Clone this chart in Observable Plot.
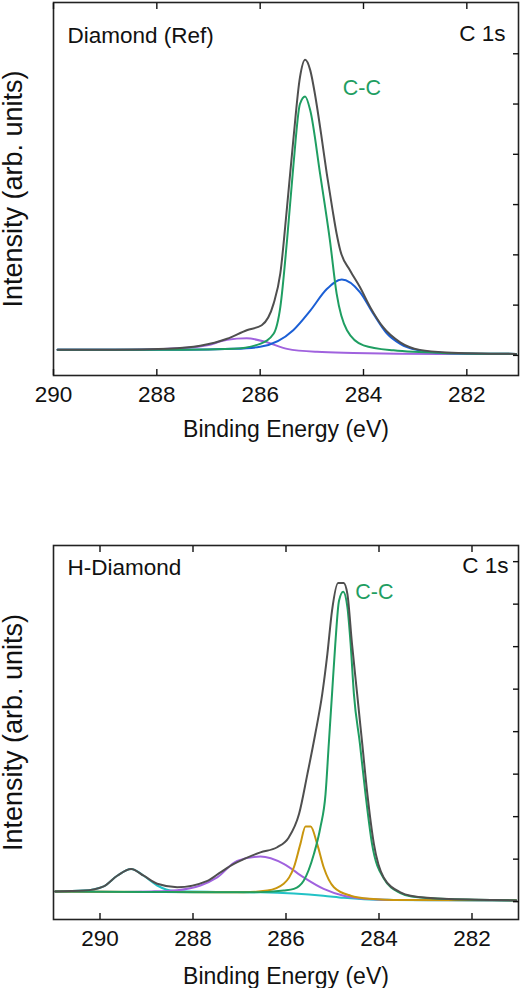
<!DOCTYPE html>
<html>
<head>
<meta charset="utf-8">
<script src="https://cdn.jsdelivr.net/npm/d3@7"></script>
<script src="https://cdn.jsdelivr.net/npm/@observablehq/plot@0.6"></script>
<style>
  body { margin: 0; background: #fff; }
  #chart { width: 520px; }
  #chart svg { display: block; }
</style>
</head>
<body>
<div id="chart"></div>
<script>
// ---------- data (binding energy eV, intensity arb. units) ----------
// Top panel: Diamond (Ref)
const refEnvelope = [[289.92,0.11],[288.8,0.11],[287.8,0.13],[287.16,0.19],[286.64,0.33],[286.26,0.5],[285.97,0.6],[285.74,1.03],[285.61,1.63],[285.48,2.95],[285.36,4.27],[285.23,5.53],[285.13,5.88],[285.03,5.67],[284.94,5.2],[284.82,4.4],[284.71,3.61],[284.6,2.9],[284.52,2.42],[284.45,2.09],[284.26,1.69],[284.07,1.36],[283.87,0.96],[283.62,0.56],[283.29,0.26],[282.91,0.11],[282.4,0.06],[281.05,0.03]];
const refCC = [[289.92,0.11],[287.5,0.11],[286.52,0.13],[286.0,0.23],[285.74,0.43],[285.61,0.96],[285.48,2.29],[285.36,3.74],[285.23,5.0],[285.13,5.15],[285.03,4.87],[284.84,3.61],[284.65,2.29],[284.52,1.23],[284.32,0.5],[284.0,0.2],[283.42,0.1],[282.5,0.05],[281.05,0.03]];
const refBlue = [[289.92,0.11],[287.5,0.11],[286.52,0.13],[286.0,0.17],[285.36,0.5],[285.03,0.89],[284.71,1.32],[284.42,1.51],[284.07,1.26],[283.81,0.83],[283.55,0.44],[283.29,0.23],[282.97,0.11],[282.42,0.05],[281.05,0.03]];
const refPurple = [[289.92,0.11],[288.5,0.11],[287.42,0.15],[287.03,0.2],[286.64,0.31],[286.26,0.34],[285.87,0.26],[285.48,0.13],[284.9,0.07],[284.2,0.05],[282.5,0.03],[281.05,0.03]];

// Bottom panel: H-Diamond
const hEnvelope = [[290.96,0.24],[290.35,0.26],[289.92,0.36],[289.63,0.61],[289.33,0.77],[289.06,0.61],[288.77,0.42],[288.34,0.34],[287.69,0.49],[287.41,0.69],[287.12,0.89],[286.91,1.0],[286.55,1.16],[286.19,1.28],[285.94,1.51],[285.72,2.06],[285.54,3.0],[285.37,3.95],[285.22,4.89],[285.11,5.83],[285.01,6.85],[284.88,7.5],[284.76,7.5],[284.68,7.24],[284.58,6.06],[284.47,4.89],[284.36,3.71],[284.25,2.53],[284.11,1.36],[283.9,0.57],[283.54,0.22],[283.32,0.14],[282.5,0.06],[281.54,0.04],[281.05,0.03]];
const hCC = [[290.96,0.24],[289,0.23],[288,0.22],[287,0.22],[286.4,0.23],[286.05,0.26],[285.83,0.3],[285.62,0.49],[285.4,1.12],[285.26,1.75],[285.15,2.53],[285.08,3.71],[285.01,4.89],[284.94,6.06],[284.86,7.08],[284.77,7.29],[284.68,6.93],[284.61,6.06],[284.54,4.89],[284.41,3.71],[284.29,2.53],[284.15,1.36],[283.9,0.55],[283.54,0.2],[283.3,0.12],[282.5,0.06],[281.05,0.03]];
const hGold = [[290.96,0.24],[289,0.23],[287.5,0.22],[286.91,0.22],[286.4,0.26],[286.05,0.42],[285.83,0.81],[285.69,1.36],[285.58,1.77],[285.47,1.77],[285.33,1.36],[285.19,0.81],[284.97,0.34],[284.61,0.14],[284.2,0.07],[283.5,0.04],[281.05,0.03]];
const hPurple = [[290.96,0.24],[289.5,0.23],[288.9,0.24],[288.34,0.27],[287.84,0.38],[287.48,0.57],[287.05,0.96],[286.55,1.06],[286.05,0.89],[285.62,0.57],[285.19,0.3],[284.76,0.14],[284.3,0.07],[283.5,0.04],[281.05,0.03]];
const hCyan = [[290.96,0.24],[290.35,0.26],[289.92,0.36],[289.63,0.61],[289.33,0.77],[289.06,0.61],[288.77,0.38],[288.41,0.25],[287.5,0.23],[286.55,0.22],[285.83,0.19],[285.2,0.14],[284.76,0.09],[284.2,0.05],[283.68,0.04],[282.5,0.03],[281.05,0.02]];

// ticks and labels
const xTicks = [290, 288, 286, 284, 282];
const topYTicks = [0, 1, 2, 3, 4, 5, 6];
const bottomYTicks = [0, 1, 2, 3, 4, 5, 6, 7, 8];
const xTitle = "Binding Energy (eV)";
const yTitle = "Intensity (arb. units)";
const coreLevel = "C 1s";
const ccLabel = "C-C";

// ---------- drawing ----------
const FONT = "'Liberation Sans', Arial, Helvetica, sans-serif";
const COLORS = {env: "#4f4f4f", cc: "#1f9e62", blue: "#1b5fd5", purple: "#a062de", gold: "#c9960e", cyan: "#22c2c6"};

function panel(o) {
  const lines = o.series.map(([data, color]) =>
    Plot.line(data, {x: d => d[0], y: d => d[1], stroke: color, strokeWidth: 2, curve: "monotone-x"}));
  return Plot.plot({
    width: 520,
    height: o.height,
    marginTop: o.marginTop,
    marginBottom: o.marginBottom,
    marginLeft: 53,
    marginRight: 2,
    style: {fontFamily: FONT, fontSize: "22px", color: "#111", background: "#fff", overflow: "visible"},
    x: {domain: o.xDomain},
    y: {domain: o.yDomain},
    marks: [
      ...lines,
      Plot.frame({stroke: "#222", strokeWidth: 1.6}),
      Plot.axisX(xTicks, {anchor: "bottom", tickSize: -6, tickPadding: 17, label: null, fontSize: 22.5, strokeWidth: 1.4}),
      Plot.axisX(xTicks, {anchor: "top", tickSize: -6, tickFormat: () => "", label: null, strokeWidth: 1.4}),
      Plot.axisY(o.yTicks, {anchor: "right", tickSize: -6, tickFormat: () => "", label: null, strokeWidth: 1.4}),
      Plot.text([xTitle], {text: d => d, frameAnchor: "bottom", lineAnchor: "bottom", dy: o.xTitleDy, fontSize: 23}),
      Plot.text([yTitle], {text: d => d, frameAnchor: "left", rotate: -90, dx: -40, textAnchor: "middle", lineAnchor: "middle", fontSize: 27}),
      Plot.text([o.name], {text: d => d, frameAnchor: "top-left", textAnchor: "start", lineAnchor: "bottom", dx: 14, dy: o.nameDy, fontSize: 22.5}),
      Plot.text([coreLevel], {text: d => d, frameAnchor: "top-right", textAnchor: "end", lineAnchor: "bottom", dx: o.coreDx, dy: o.coreDy, fontSize: 22.5}),
      Plot.text([o.cc], {x: d => d[0], y: d => d[1], text: () => ccLabel, textAnchor: "start", lineAnchor: "bottom", fill: COLORS.cc, fontSize: 21.5})
    ]
  });
}

const topPanel = panel({
  height: 450, marginTop: 2, marginBottom: 75,
  xDomain: [290, 281], yDomain: [-0.4, 7.02], yTicks: topYTicks,
  series: [[refPurple, COLORS.purple], [refBlue, COLORS.blue], [refCC, COLORS.cc], [refEnvelope, COLORS.env]],
  name: "Diamond (Ref)", nameDy: 40, coreDx: -13, coreDy: 38, xTitleDy: 61,
  cc: [284.40, 5.17]
});
const bottomPanel = panel({
  height: 538, marginTop: 95, marginBottom: 69,
  xDomain: [291, 281], yDomain: [-0.42, 8.38], yTicks: bottomYTicks,
  series: [[hCyan, COLORS.cyan], [hPurple, COLORS.purple], [hGold, COLORS.gold], [hCC, COLORS.cc], [hEnvelope, COLORS.env]],
  name: "H-Diamond", nameDy: 29, coreDx: -10, coreDy: 27, xTitleDy: 64,
  cc: [284.51, 7.13]
});
document.getElementById("chart").append(topPanel, bottomPanel);
</script>
</body>
</html>
